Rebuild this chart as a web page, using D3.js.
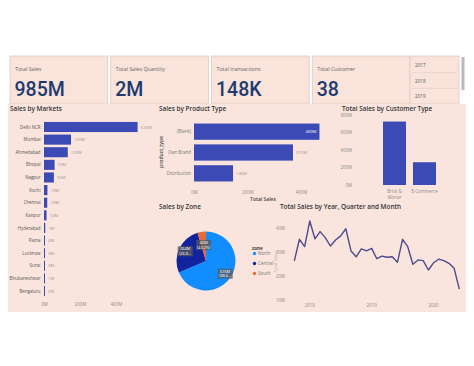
<!DOCTYPE html>
<html><head><meta charset="utf-8">
<script src="https://cdn.jsdelivr.net/npm/d3@7"></script>
<style>
html,body{margin:0;padding:0;background:#fff;}
svg{display:block;font-family:"Open Sans","DejaVu Sans",sans-serif;}
</style></head>
<body>
<svg id="c" width="474" height="366"></svg>
<script>
// ---- data ----
const cardTitles = ["Total Sales","Total Sales Quantity","Total transactions","Total Customer"];
const cardValues = ["985M","2M","148K","38"];
const years = ["2017","2018","2019"];

const markets = ["Delhi NCR","Mumbai","Ahmedabad","Bhopal","Nagpur","Kochi","Chennai","Kanpur","Hyderabad","Patna","Lucknow","Surat","Bhubaneshwar","Bengaluru"];
const marketSales = [520,150,132,59,55,19,18,14,7,4,3,3,1,0.4];
const marketTicks = [0,200,400];

const productTypes = ["(Blank)","Own Brand","Distribution"];
const productSales = [469,370,146];
const productTicks = [0,200,400];

const customerTypes = ["Brick & Mortar","E-Commerce"];
const customerSales = [725,260];
const customerTicks = [0,200,400,600,800];

const zones = ["North","Central","South"];
const zoneSales = [675.8,264.2,45.5];

const monthSales = [26.3,35.3,32.2,42.9,35.5,38.5,36.0,32.5,35.0,36.7,39.7,30.4,28.0,31.3,30.5,31.5,27.2,28.3,27.8,28.0,25.7,35.3,32.2,24.9,26.7,26.4,22.5,25.5,27.0,26.4,25.3,23.2,14.5];
const yearLabels = ["2018","2019","2020"];
const yearLabelIndex = [3,15,27];
const lineTicks = [10,20,30,40];

// ---- styles ----
const PANEL="#FAE5DE", CARD="#F9E3DB", CARDBORDER="#DCCBC5", BAR="#3B4AB4", LINE="#4D4B8C";
const TITLE="#333", TICK="#8a8a8a", VALC="#1F3B6E";
const zoneColors = ["#118DFF","#12239E","#E66C37"];
const fm = v => Math.round(v)+"M";

const svg = d3.select("#c");

// cards
const cardX = d3.scaleBand().domain(d3.range(4)).range([10,410]).paddingInner(0.03);
cardTitles.forEach((t,i)=>{
  const x = cardX(i), w = cardX.bandwidth();
  svg.append("rect").attr("x",x).attr("y",56).attr("width",w).attr("height",48).attr("fill",CARD).attr("stroke",CARDBORDER).attr("stroke-width",0.8);
  svg.append("text").attr("x",x+5).attr("y",71).attr("font-size",5.3).attr("fill","#666").text(t);
  svg.append("text").attr("x",x+4.5).attr("y",95.5).attr("font-size",19.5).attr("font-family","Roboto, 'DejaVu Sans', sans-serif").attr("font-weight",500).attr("fill",VALC).text(cardValues[i]);
});
// slicer
svg.append("rect").attr("x",410).attr("y",56).attr("width",49).attr("height",48).attr("fill",CARD).attr("stroke",CARDBORDER).attr("stroke-width",0.8);
const sy = d3.scaleBand().domain(years).range([57,104]);
years.forEach((y,i)=>{
  svg.append("text").attr("x",415).attr("y",sy(y)+sy.bandwidth()/2+2).attr("font-size",4.6).attr("fill","#555").text(y);
  if(i>0) svg.append("line").attr("x1",412).attr("x2",457).attr("y1",sy(y)).attr("y2",sy(y)).attr("stroke","#e2cfc8").attr("stroke-width",0.7);
});
svg.append("rect").attr("x",461.5).attr("y",57).attr("width",3).attr("height",33).attr("fill","#b9b9b9");

// main panel
svg.append("rect").attr("x",8).attr("y",104).attr("width",458).attr("height",208).attr("fill",PANEL);

function title(x,y,t){ svg.append("text").attr("x",x).attr("y",y).attr("font-size",6.4).attr("font-weight",600).attr("fill",TITLE).text(t); }

// ---- Sales by Markets ----
title(10,111,"Sales by Markets");
const mx = d3.scaleLinear().domain([0,560]).range([44,144.8]);
const my = d3.scaleBand().domain(markets).range([120.7,297.3]).paddingInner(0.2).paddingOuter(0.1);
const gm = svg.append("g");
gm.selectAll("rect").data(markets).join("rect")
  .attr("x",mx(0)).attr("y",d=>my(d)).attr("height",my.bandwidth())
  .attr("width",(d,i)=>Math.max(1,mx(marketSales[i])-mx(0))).attr("fill",BAR);
gm.selectAll("text.cat").data(markets).join("text").attr("class","cat")
  .attr("x",40.5).attr("y",d=>my(d)+my.bandwidth()/2+1.6).attr("text-anchor","end")
  .attr("font-size",4.4).attr("fill","#555").text(d=>d);
gm.selectAll("text.val").data(markets).join("text").attr("class","val")
  .attr("x",(d,i)=>Math.max(mx(0)+1,mx(marketSales[i]))+3).attr("y",d=>my(d)+my.bandwidth()/2+1.6)
  .attr("font-size",4.3).attr("fill","#999").text((d,i)=>fm(marketSales[i]));
const axM = svg.append("g").attr("transform","translate(0,300)")
  .call(d3.axisBottom(mx).tickValues(marketTicks).tickFormat(d=>d+"M").tickSize(0));
axM.select(".domain").remove();
axM.selectAll("text").attr("font-size",4.4).attr("fill",TICK).attr("font-family","'Open Sans',sans-serif");

// ---- Sales by Product Type ----
title(159,111,"Sales by Product Type");
const px = d3.scaleLinear().domain([0,480]).range([194,322.4]);
const py = d3.scaleBand().domain(productTypes).range([122.5,182.5]).paddingInner(0.22).paddingOuter(0.05);
const gp = svg.append("g");
gp.selectAll("rect").data(productTypes).join("rect")
  .attr("x",px(0)).attr("y",d=>py(d)).attr("height",py.bandwidth())
  .attr("width",(d,i)=>px(productSales[i])-px(0)).attr("fill",BAR);
gp.selectAll("text.cat").data(productTypes).join("text").attr("class","cat")
  .attr("x",191).attr("y",d=>py(d)+py.bandwidth()/2+1.6).attr("text-anchor","end")
  .attr("font-size",4.4).attr("fill","#777").text(d=>d);
gp.selectAll("text.val").data(productTypes).join("text").attr("class","val")
  .attr("x",(d,i)=> i===0 ? px(productSales[i])-3 : px(productSales[i])+3)
  .attr("text-anchor",(d,i)=> i===0 ? "end":"start")
  .attr("y",d=>py(d)+py.bandwidth()/2+1.6)
  .attr("font-size",4.2).attr("fill",(d,i)=> i===0 ? "#fff":"#999").text((d,i)=>fm(productSales[i]));
const axP = svg.append("g").attr("transform","translate(0,188)")
  .call(d3.axisBottom(px).tickValues(productTicks).tickFormat(d=>d+"M").tickSize(0));
axP.select(".domain").remove();
axP.selectAll("text").attr("font-size",4.4).attr("fill",TICK).attr("font-family","'Open Sans',sans-serif");
svg.append("text").attr("x",263).attr("y",200.5).attr("text-anchor","middle").attr("font-size",5).attr("font-weight",600).attr("fill","#444").text("Total Sales");
svg.append("text").attr("transform","translate(163,152) rotate(-90)").attr("text-anchor","middle").attr("font-size",5).attr("font-weight",600).attr("fill","#444").text("product_type");

// ---- Total Sales by Customer Type ----
title(342,111,"Total Sales by Customer Type");
const cy = d3.scaleLinear().domain([0,800]).range([185,115]);
const cx = d3.scaleBand().domain(customerTypes).range([375,444]).paddingInner(0.233).paddingOuter(0.267);
const gc = svg.append("g");
gc.selectAll("rect").data(customerTypes).join("rect")
  .attr("x",d=>cx(d)).attr("width",cx.bandwidth())
  .attr("y",(d,i)=>cy(customerSales[i])).attr("height",(d,i)=>cy(0)-cy(customerSales[i])).attr("fill",BAR);
const axC = svg.append("g").attr("transform","translate(355,0)")
  .call(d3.axisLeft(cy).tickValues(customerTicks).tickFormat(d=>d+"M").tickSize(0));
axC.select(".domain").remove();
axC.selectAll("text").attr("font-size",4.4).attr("fill",TICK).attr("font-family","'Open Sans',sans-serif");
const catLines = {"Brick & Mortar":["Brick &","Mortar"],"E-Commerce":["E-Commerce"]};
customerTypes.forEach(c=>{
  catLines[c].forEach((l,j)=>{
    svg.append("text").attr("x",cx(c)+cx.bandwidth()/2).attr("y",192.5+j*6).attr("text-anchor","middle")
      .attr("font-size",4.4).attr("fill",TICK).text(l);
  });
});

// ---- Sales by Zone ----
title(159,209,"Sales by Zone");
const pcx=206, pcy=261, R=29.5;
const pie = d3.pie().sort(null).value(d=>d)(zoneSales);
const arc = d3.arc().innerRadius(0).outerRadius(R);
const gz = svg.append("g").attr("transform",`translate(${pcx},${pcy})`);
gz.selectAll("path").data(pie).join("path").attr("d",arc).attr("fill",(d,i)=>zoneColors[i]);
const total = d3.sum(zoneSales);
const labFactor = [0.78,0.78,0.55];
pie.forEach((d,i)=>{
  const a = (d.startAngle+d.endAngle)/2, r = R*labFactor[i];
  const lx = Math.sin(a)*r, ly = -Math.cos(a)*r;
  const pct = (zoneSales[i]/total*100);
  const l2 = i===2 ? "("+pct.toFixed(2)+"%)" : "("+pct.toFixed(1)+"...";
  const g = gz.append("g").attr("transform",`translate(${lx},${ly})`);
  g.append("rect").attr("x",-7.5).attr("y",-5).attr("width",15).attr("height",10).attr("fill","#5a5a5a").attr("opacity",0.75);
  g.append("text").attr("y",-0.8).attr("text-anchor","middle").attr("font-size",3.9).attr("fill","#fff").text(fm(zoneSales[i]));
  g.append("text").attr("y",3.6).attr("text-anchor","middle").attr("font-size",3.9).attr("fill","#fff").text(l2);
});
svg.append("text").attr("x",252).attr("y",249.5).attr("font-size",4.6).attr("font-weight",700).attr("fill","#444").text("zone");
zones.forEach((z,i)=>{
  svg.append("circle").attr("cx",254.5).attr("cy",253.5+i*10).attr("r",1.7).attr("fill",zoneColors[i]);
  svg.append("text").attr("x",258).attr("y",255.2+i*10).attr("font-size",4.6).attr("fill","#777").text(z);
});

// ---- Total Sales by Year, Quarter and Month ----
title(280,209,"Total Sales by Year, Quarter and Month");
const lx = d3.scaleLinear().domain([0,monthSales.length-1]).range([294.3,459.3]);
const ly = d3.scaleLinear().domain([10,40]).range([300,228]);
svg.append("path").datum(monthSales)
  .attr("d",d3.line().x((d,i)=>lx(i)).y(d=>ly(d)))
  .attr("fill","none").attr("stroke",LINE).attr("stroke-width",1.4).attr("stroke-linejoin","round");
const axL = svg.append("g").attr("transform","translate(288,0)")
  .call(d3.axisLeft(ly).tickValues(lineTicks).tickFormat(d=>d+"M").tickSize(0));
axL.select(".domain").remove();
axL.selectAll("text").attr("font-size",4.4).attr("fill",TICK).attr("font-family","'Open Sans',sans-serif");
yearLabels.forEach((y,i)=>{
  svg.append("text").attr("x",lx(yearLabelIndex[i])).attr("y",306.5).attr("text-anchor","middle")
    .attr("font-size",4.4).attr("fill",TICK).text(y);
});
svg.append("text").attr("transform","translate(276.5,262) rotate(-90)").attr("text-anchor","middle").attr("font-size",4.2).attr("fill","#aaa").text("Total Sales");
</script>
</body></html>
